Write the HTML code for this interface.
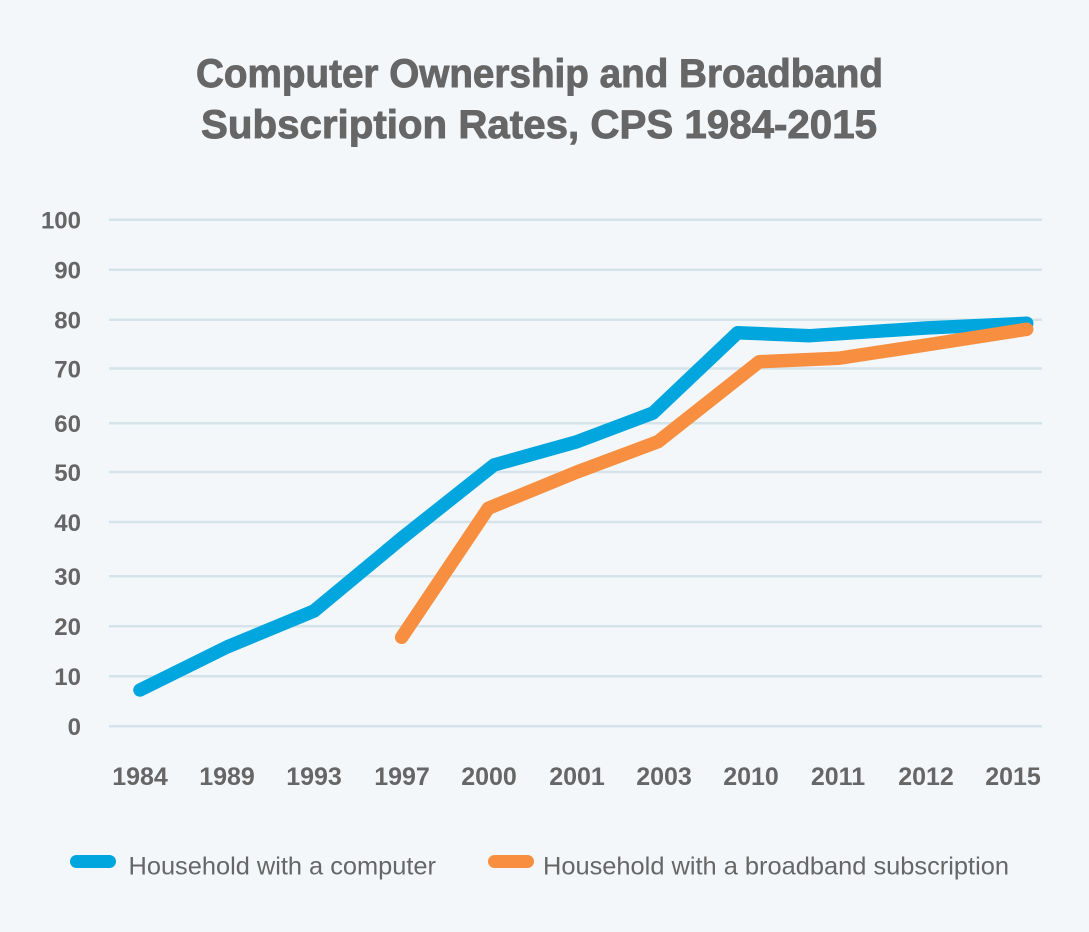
<!DOCTYPE html>
<html>
<head>
<meta charset="utf-8">
<style>
html,body{margin:0;padding:0;background:#f3f7fa;}
body{width:1089px;height:932px;overflow:hidden;}
svg{display:block;}
</style>
</head>
<body>
<svg width="1089" height="932" viewBox="0 0 1089 932" xmlns="http://www.w3.org/2000/svg">
<rect x="0" y="0" width="1089" height="932" fill="#f3f7fa"/>
<g font-family="'Liberation Sans', Arial, sans-serif" font-weight="bold" fill="#666666" stroke="#666666" stroke-width="0.9">
<text x="196" y="87" font-size="40" textLength="687" lengthAdjust="spacingAndGlyphs">Computer Ownership and Broadband</text>
<text x="201" y="138" font-size="40" textLength="676" lengthAdjust="spacingAndGlyphs">Subscription Rates, CPS 1984-2015</text>
</g>
<g stroke="#d5e4ea" stroke-width="2.5">
<line x1="109" y1="219.7" x2="1042" y2="219.7"/>
<line x1="109" y1="269.7" x2="1042" y2="269.7"/>
<line x1="109" y1="319.7" x2="1042" y2="319.7"/>
<line x1="109" y1="368.5" x2="1042" y2="368.5"/>
<line x1="109" y1="423.3" x2="1042" y2="423.3"/>
<line x1="109" y1="472" x2="1042" y2="472"/>
<line x1="109" y1="522" x2="1042" y2="522"/>
<line x1="109" y1="576.3" x2="1042" y2="576.3"/>
<line x1="109" y1="626.3" x2="1042" y2="626.3"/>
<line x1="109" y1="676.3" x2="1042" y2="676.3"/>
<line x1="109" y1="726.3" x2="1042" y2="726.3"/>
</g>
<g font-family="'Liberation Sans', Arial, sans-serif" font-weight="bold" font-size="24" fill="#666666" text-anchor="end">
<text x="81" y="228.5">100</text>
<text x="81" y="278.5">90</text>
<text x="81" y="328.5">80</text>
<text x="81" y="377.3">70</text>
<text x="81" y="432">60</text>
<text x="81" y="480.8">50</text>
<text x="81" y="530.8">40</text>
<text x="81" y="585">30</text>
<text x="81" y="635">20</text>
<text x="81" y="685">10</text>
<text x="81" y="735">0</text>
</g>
<g font-family="'Liberation Sans', Arial, sans-serif" font-weight="bold" font-size="25" fill="#666666" text-anchor="middle">
<text x="140" y="785">1984</text>
<text x="227" y="785">1989</text>
<text x="314" y="785">1993</text>
<text x="402" y="785">1997</text>
<text x="489" y="785">2000</text>
<text x="577" y="785">2001</text>
<text x="664" y="785">2003</text>
<text x="751" y="785">2010</text>
<text x="838" y="785">2011</text>
<text x="926" y="785">2012</text>
<text x="1013" y="785">2015</text>
</g>
<polyline fill="none" stroke="#00a6dd" stroke-width="13.5" stroke-linecap="round" stroke-linejoin="round"
 points="140,690 227,647 314,611 402,538 494,465 577,441.7 653,413 737.7,332.7 810,335.7 926,328 1026.7,323.3"/>
<polyline fill="none" stroke="#f88f40" stroke-width="13.5" stroke-linecap="round" stroke-linejoin="round"
 points="401.7,637.3 488.3,508.3 577,472 658,441.7 759.3,361.7 838.3,358.3 926,345 1026.7,329.3"/>
<rect x="70" y="855" width="46" height="13" rx="6.5" fill="#00a6dd"/>
<rect x="488" y="855" width="46" height="13" rx="6.5" fill="#f88f40"/>
<g font-family="'Liberation Sans', Arial, sans-serif" font-size="25" fill="#666666">
<text x="128.5" y="874.3" textLength="307.5" lengthAdjust="spacingAndGlyphs">Household with a computer</text>
<text x="543" y="874.3" textLength="466" lengthAdjust="spacingAndGlyphs">Household with a broadband subscription</text>
</g>
</svg>
</body>
</html>
